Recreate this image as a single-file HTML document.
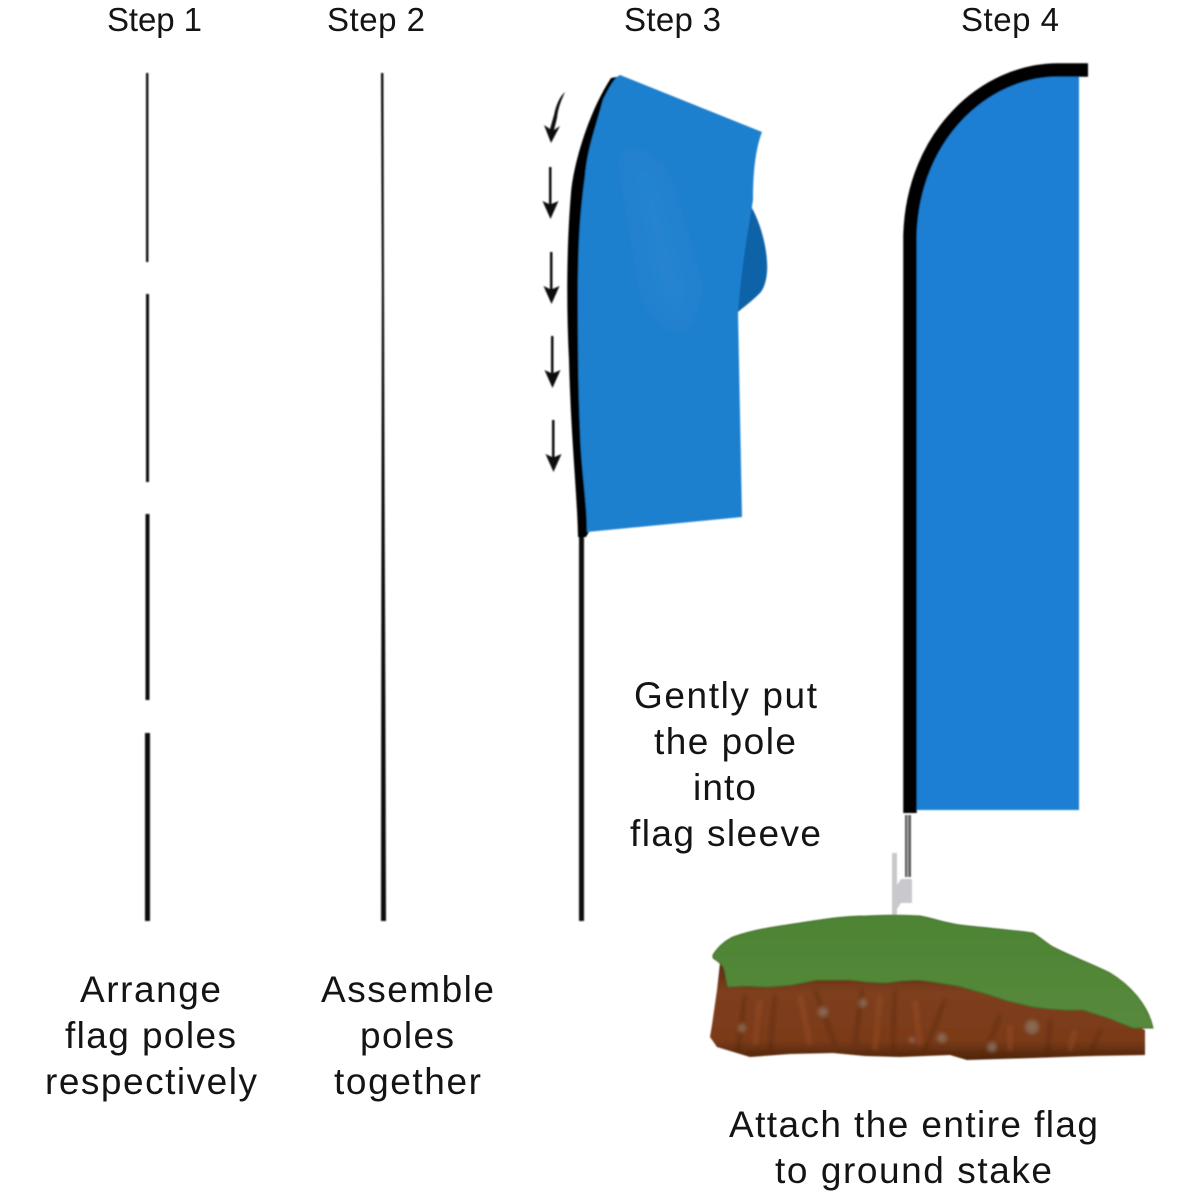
<!DOCTYPE html>
<html><head><meta charset="utf-8"><style>html,body{margin:0;padding:0;background:#fff}svg{display:block}text{font-family:"Liberation Sans",sans-serif;font-size:37px;fill:#141414}text.h{font-size:33px}</style></head><body>
<svg width="1200" height="1200" viewBox="0 0 1200 1200" xmlns="http://www.w3.org/2000/svg">
<defs>
<filter id="s"><feGaussianBlur stdDeviation="0.7"/></filter>
<filter id="b"><feGaussianBlur stdDeviation="9"/></filter>
<filter id="c"><feGaussianBlur stdDeviation="1.8"/></filter>
<linearGradient id="soil" x1="0" y1="0" x2="0" y2="1"><stop offset="0" stop-color="#5a2a10"/><stop offset=".3" stop-color="#7e3f1d"/><stop offset=".8" stop-color="#7a3a18"/><stop offset="1" stop-color="#4c2409"/></linearGradient>
<linearGradient id="grass" x1="0" y1="0" x2="0" y2="1"><stop offset="0" stop-color="#4c8433"/><stop offset="1" stop-color="#57893c"/></linearGradient>
</defs>
<text class="h" x="107" y="31" textLength="95">Step 1</text>
<text class="h" x="327" y="31" textLength="98">Step 2</text>
<text class="h" x="624" y="31" textLength="97">Step 3</text>
<text class="h" x="961" y="31" textLength="98">Step 4</text>
<g filter="url(#s)" fill="#111">
<rect x="146" y="73" width="2.400" height="189"/><rect x="146" y="294" width="3" height="188"/><rect x="145.500" y="514" width="4" height="186"/><rect x="145" y="733" width="5" height="188"/>
<path d="M381 73h2.400l.6 212 .6 215 .8 205 .6 216h-5l.2-216 .3-205 .3-215z"/>
</g>
<g filter="url(#s)">
<path fill="#111" d="M579 921V537h5v384z"/>
<path fill="#060606" d="M578 537C577 490 571 440 569 360C566 300 567 240 571 193C574 160 590 110 611 78L622 76L600 120L590 530L586 537Z"/>
<path fill="#0d62a8" d="M750 205C757 215 766 240 767 262C768 275 765 288 760 293C752 301 745 306 738 312L735 250Z"/>
<path fill="#1f80cf" d="M620 75L762 132C757 145 753 165 753 200C750 220 742 260 738 312L742 517L587 532C587 500 581 470 580 427C578 380 578 335 578 293C578 240 581 205 585 177C587 150 595 130 603 100C608 90 614 78 620 75Z"/>
<path fill="#3a90d4" opacity=".22" filter="url(#b)" d="M625 150L660 170L695 290L680 330L650 300Z"/>
<g fill="#111">
<path d="M551 143L544 125L550 129L554 115C556 105 560 96 565 92C561 101 558 108 557 118L554 130L560 126Z"/>
<path d="M549 167h2.500v37l7-3-8 18-8-18 6.500 3z"/><path d="M550 252h2.500v37l7-3-8 18-8-18 6.500 3z"/><path d="M551 336h2.500v37l7-3-8 18-8-18 6.500 3z"/><path d="M552 420h2.500v37l7-3-8 18-8-18 6.500 3z"/>
</g>
<path fill="#1a7fd3" d="M910 810V235C913 135 985 72 1058 72H1079V810Z"/>
<path fill="none" stroke="#050505" stroke-width="13.500" d="M910 813V235C913 135 985 70 1058 70H1088"/>
<path fill="#c9c9cd" d="M892 853h5v62h-5zM897 885l4-6h11v24h-11l-4 6z"/>
<path fill="#5a5a5c" d="M905 815h6v62h-6z"/><rect x="907" y="815" width="1.500" height="62" fill="#aaa"/>
<path fill="url(#soil)" d="M720 963L717 990L712 1025L710 1037L717 1047L750 1057L790 1054L833 1053L865 1056L900 1057L950 1055L967 1060L1033 1058L1090 1056L1145 1055V1030L1083 1000L983 985L867 975L760 975Z"/>
<g filter="url(#c)">
<g stroke="#4a220c" stroke-width="3" fill="none" opacity=".45">
<path d="M745 995L738 1050M775 995L770 1050M815 990L835 1045M862 990L855 1045M895 990L893 1050M945 1000L925 1050M1000 1015L985 1055M1050 1020L1048 1055M1100 1030L1090 1055"/></g>
<g stroke="#9a4f28" stroke-width="5" fill="none" opacity=".5"><path d="M760 1000L755 1045M800 995L810 1045M880 995L875 1050M915 1000L920 1045M1010 1025L1010 1050M1075 1030L1070 1050"/></g>
<g fill="#8f7a68" opacity=".7"><circle cx="1032" cy="1027" r="7"/><circle cx="823" cy="1012" r="5"/><circle cx="863" cy="1003" r="4"/><circle cx="942" cy="1038" r="5"/><circle cx="992" cy="1047" r="5"/><circle cx="742" cy="1028" r="4"/><circle cx="912" cy="1040" r="3"/></g>
</g>
<path fill="url(#grass)" stroke="#3f6b25" stroke-width="1" d="M713 955C718 947 725 941 733 937C755 929 780 926 800 923C825 919 845 916 867 916C885 915 905 915 920 916C932 918 945 923 960 925C985 928 1012 930 1033 933C1040 937 1046 943 1053 947C1070 956 1090 963 1110 973C1130 985 1148 1005 1153 1028L1133 1028L1108 1018L1083 1010L1066 1010L1050 1009L1033 1007L1008 1001L983 993L958 986L933 982L918 980L900 981L886 983L867 982L850 980L817 980L792 985L767 987L745 986L728 987C725 980 726 972 723 967C720 962 716 960 713 958Z"/>
</g>
<text x="634" y="708" textLength="183">Gently put</text>
<text x="654" y="754" textLength="142">the pole</text>
<text x="693" y="800" textLength="63">into</text>
<text x="630" y="846" textLength="191">flag sleeve</text>
<text x="80" y="1002" textLength="141">Arrange</text>
<text x="65" y="1048" textLength="171">flag poles</text>
<text x="45" y="1094" textLength="212">respectively</text>
<text x="321" y="1002" textLength="173">Assemble</text>
<text x="360" y="1048" textLength="94">poles</text>
<text x="334" y="1094" textLength="147">together</text>
<text x="729" y="1137" textLength="369">Attach the entire flag</text>
<text x="775" y="1183" textLength="277">to ground stake</text>
</svg>
</body></html>
